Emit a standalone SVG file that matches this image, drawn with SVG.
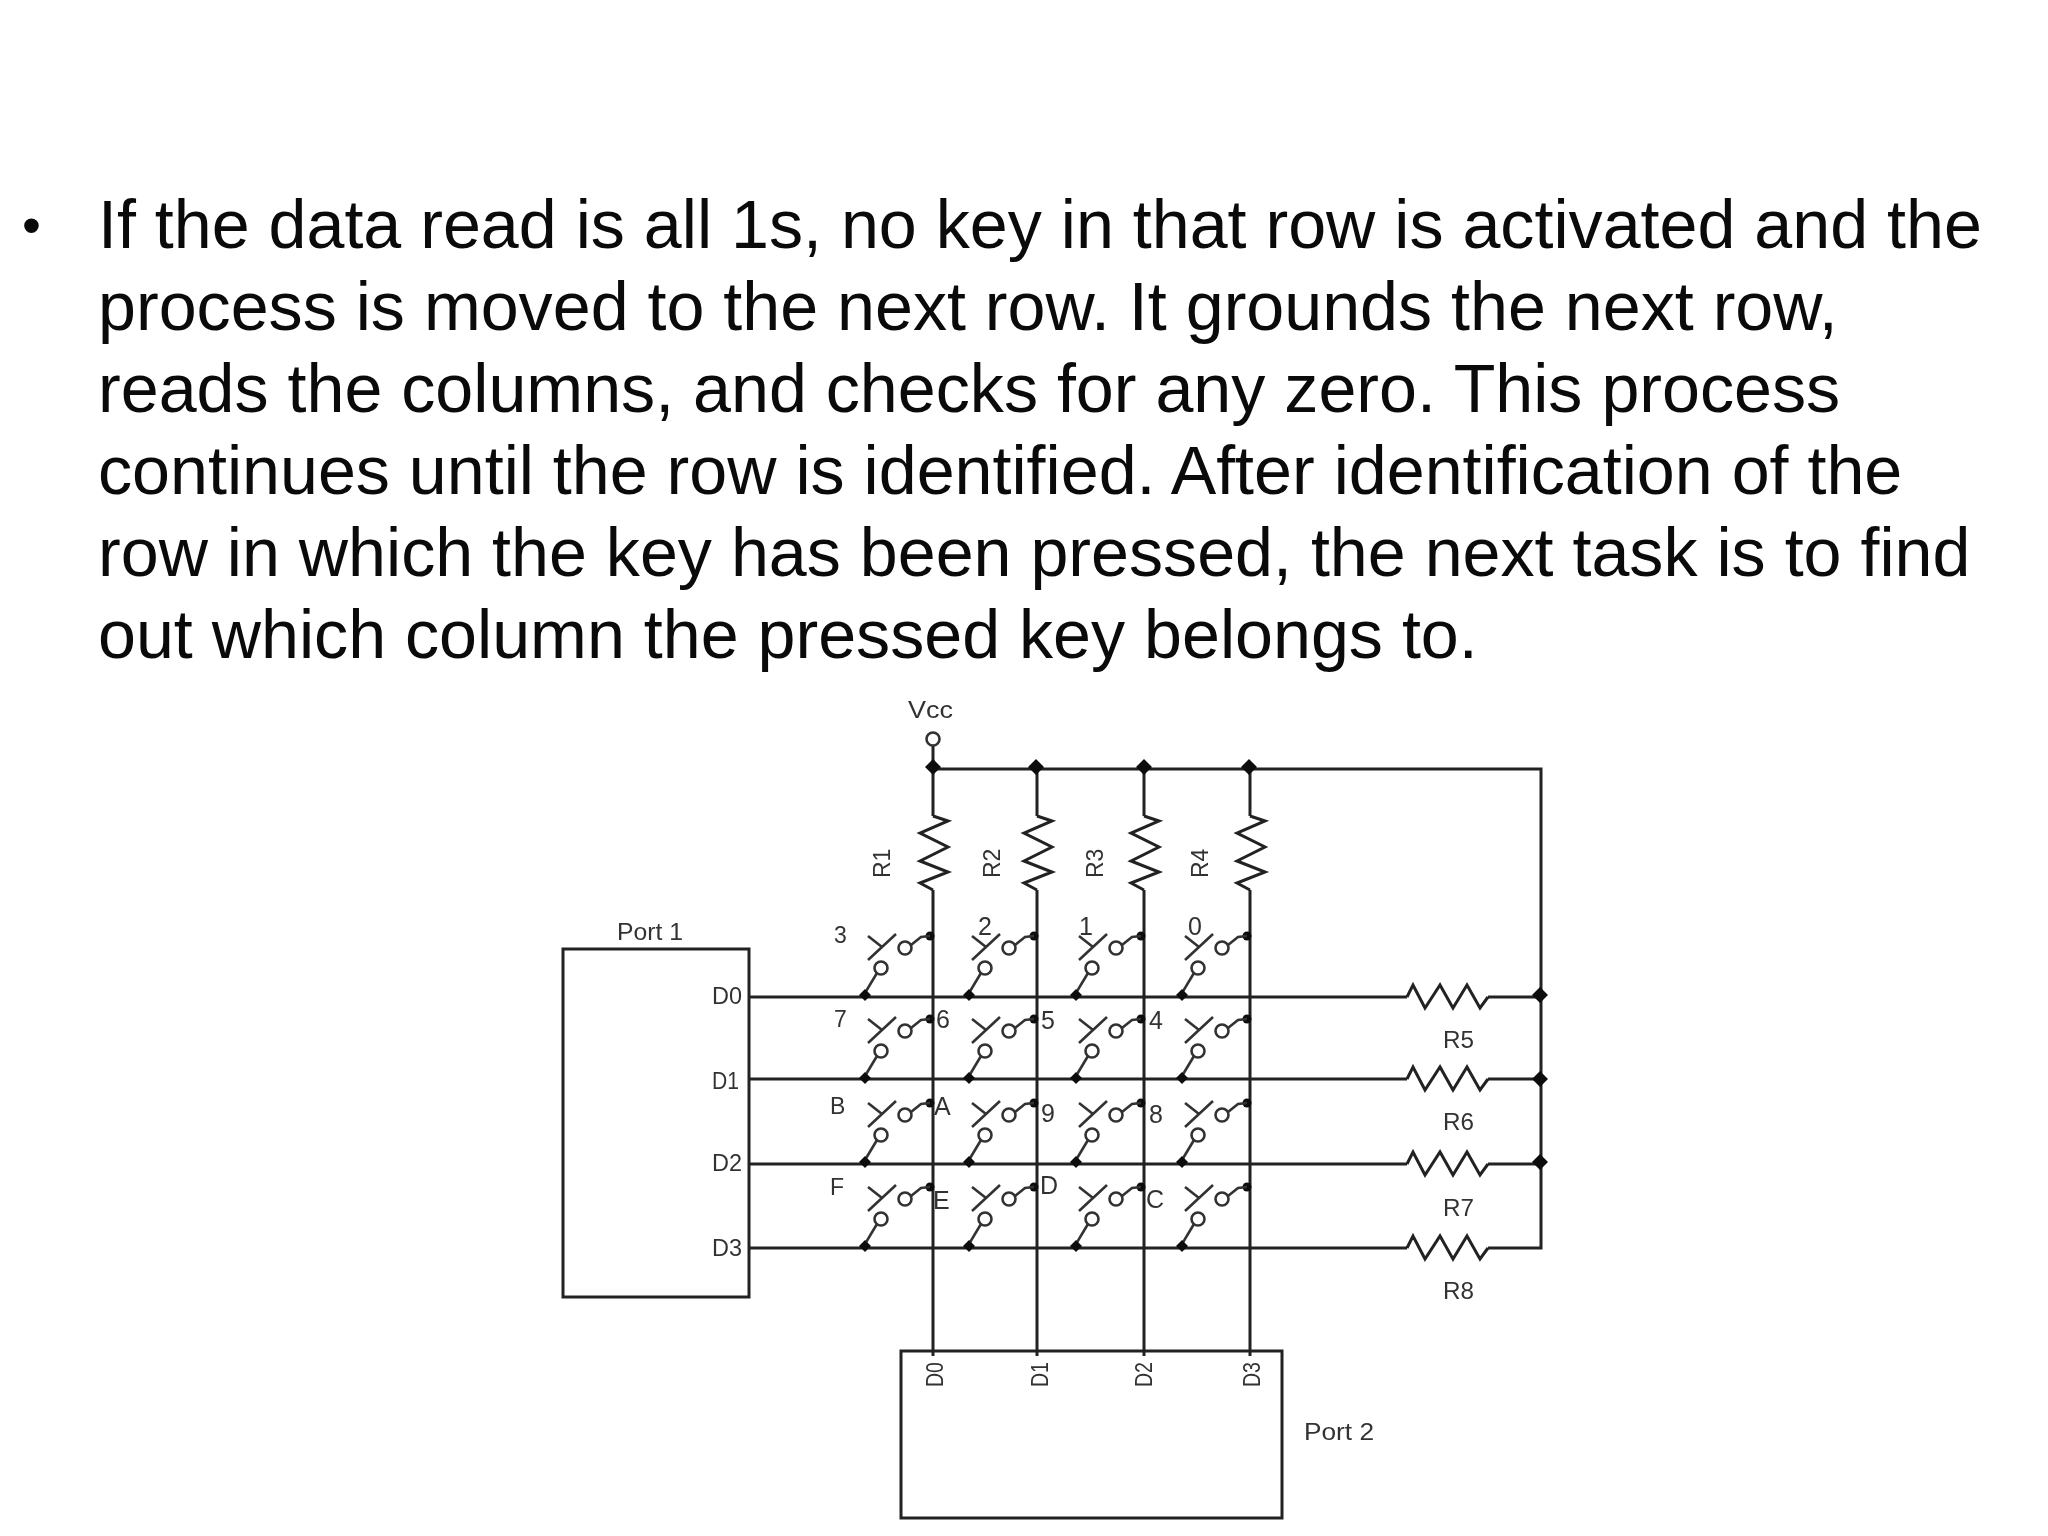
<svg xmlns="http://www.w3.org/2000/svg" width="2048" height="1536" viewBox="0 0 2048 1536">
<style>
.body{font-family:"Liberation Sans",Arial,sans-serif;font-size:68.2px;fill:#0a0a0a}
.bul{font-size:54px}
.lbl{font-family:"Liberation Sans",Arial,sans-serif;font-size:23px;fill:#333}
.k{font-size:25px}
.w{fill:none;stroke:#222;stroke-width:3}
.t{fill:none;stroke:#333;stroke-width:2.6}
.box{fill:#fff;stroke:#222;stroke-width:3}
.dot{fill:#111}
</style>
<defs>
<filter id="soft" x="-2%" y="-2%" width="104%" height="104%"><feGaussianBlur stdDeviation="0.7"/></filter>
<g id="sw">
<circle class="dot" cx="-3" cy="0" r="4.5"/>
<path class="t" d="M-3 0L-12 1L-22 9"/>
<circle class="t" cx="-28" cy="12" r="6.5"/>
<path class="t" d="M-65 24L-37 -2M-51 11L-65 0"/>
<circle class="t" cx="-52" cy="32" r="6.5"/>
<path class="t" d="M-56 37L-68 57"/>
<path class="dot" d="M-68 53l6 6l-6 6l-6 -6z"/>
</g>
<path id="rv" class="w" d="M0 816L15 821L-13 833L15 847L-13 861L15 872L-13 883L0 890"/>
<path id="rh" class="w" d="M1407 0L1413 -12L1425 11L1440 -12L1453 11L1467 -12L1480 11L1488 0"/>
<path id="jn" class="dot" d="M0 -8L8 0L0 8L-8 0Z"/>
</defs>
<rect width="2048" height="1536" fill="#fff"/>
<g id="body-text">
<text class="body bul" x="22" y="244">•</text>
<text class="body" x="98" y="248">If the data read is all 1s, no key in that row is activated and the</text>
<text class="body" x="98" y="330">process is moved to the next row. It grounds the next row,</text>
<text class="body" x="98" y="412">reads the columns, and checks for any zero. This process</text>
<text class="body" x="98" y="494">continues until the row is identified. After identification of the</text>
<text class="body" x="98" y="576">row in which the key has been pressed, the next task is to find</text>
<text class="body" x="98" y="658">out which column the pressed key belongs to.</text>
</g>
<g filter="url(#soft)">
<g id="port1"><rect class="box" x="563" y="949" width="186" height="348"/>
<text class="lbl" x="617" y="940" textLength="66" lengthAdjust="spacingAndGlyphs">Port 1</text>
<text class="lbl" x="712" y="1004" textLength="30" lengthAdjust="spacingAndGlyphs">D0</text>
<text class="lbl" x="712" y="1089" textLength="27" lengthAdjust="spacingAndGlyphs">D1</text>
<text class="lbl" x="712" y="1171" textLength="30" lengthAdjust="spacingAndGlyphs">D2</text>
<text class="lbl" x="712" y="1256" textLength="30" lengthAdjust="spacingAndGlyphs">D3</text>
</g>
<g id="port2"><rect class="box" x="901" y="1351" width="381" height="167"/>
<text class="lbl" x="1304" y="1440" textLength="70" lengthAdjust="spacingAndGlyphs">Port 2</text>
<text class="lbl" transform="translate(943 1387) rotate(-90)" textLength="25" lengthAdjust="spacingAndGlyphs">D0</text>
<text class="lbl" transform="translate(1048 1387) rotate(-90)" textLength="25" lengthAdjust="spacingAndGlyphs">D1</text>
<text class="lbl" transform="translate(1152 1387) rotate(-90)" textLength="25" lengthAdjust="spacingAndGlyphs">D2</text>
<text class="lbl" transform="translate(1260 1387) rotate(-90)" textLength="25" lengthAdjust="spacingAndGlyphs">D3</text>
</g>
<g id="connectors">
<path class="w" d="M933 746V816M933 890V1356M1037 769V816M1037 890V1356M1144 769V816M1144 890V1356M1250 769V816M1250 890V1356"/>
<path class="w" d="M933 769H1541V1248H1488M749 997H1407M749 1079H1407M749 1164H1407M749 1248H1407M1488 997H1541M1488 1079H1541M1488 1164H1541"/>
<circle class="t" cx="933" cy="739" r="6.5"/>
<use href="#jn" x="933" y="767"/><use href="#jn" x="1036" y="767"/><use href="#jn" x="1144" y="767"/><use href="#jn" x="1249" y="767"/>
<use href="#jn" x="1540" y="995"/><use href="#jn" x="1540" y="1079"/><use href="#jn" x="1540" y="1162"/>
</g>
<g id="vcc"><text class="lbl" x="908" y="718" textLength="45" lengthAdjust="spacingAndGlyphs">Vcc</text></g>
<g id="R1"><use href="#rv" x="933"/><text class="lbl" transform="translate(890 878) rotate(-90)">R1</text></g>
<g id="R2"><use href="#rv" x="1037"/><text class="lbl" transform="translate(1000 878) rotate(-90)">R2</text></g>
<g id="R3"><use href="#rv" x="1144"/><text class="lbl" transform="translate(1103 878) rotate(-90)">R3</text></g>
<g id="R4"><use href="#rv" x="1250"/><text class="lbl" transform="translate(1208 878) rotate(-90)">R4</text></g>
<g id="R5"><use href="#rh" y="997"/><text class="lbl" x="1443" y="1048" textLength="31" lengthAdjust="spacingAndGlyphs">R5</text></g>
<g id="R6"><use href="#rh" y="1079"/><text class="lbl" x="1443" y="1130" textLength="31" lengthAdjust="spacingAndGlyphs">R6</text></g>
<g id="R7"><use href="#rh" y="1164"/><text class="lbl" x="1443" y="1216" textLength="31" lengthAdjust="spacingAndGlyphs">R7</text></g>
<g id="R8"><use href="#rh" y="1248"/><text class="lbl" x="1443" y="1299" textLength="31" lengthAdjust="spacingAndGlyphs">R8</text></g>
<g id="key-3"><use href="#sw" x="933" y="936"/><text class="lbl" x="834" y="943">3</text></g>
<g id="key-2"><use href="#sw" x="1037" y="936"/><text class="lbl k" x="978" y="935">2</text></g>
<g id="key-1"><use href="#sw" x="1144" y="936"/><text class="lbl k" x="1079" y="935">1</text></g>
<g id="key-0"><use href="#sw" x="1250" y="936"/><text class="lbl k" x="1188" y="935">0</text></g>
<g id="key-7"><use href="#sw" x="933" y="1019"/><text class="lbl" x="834" y="1027">7</text></g>
<g id="key-6"><use href="#sw" x="1037" y="1019"/><text class="lbl k" x="936" y="1028">6</text></g>
<g id="key-5"><use href="#sw" x="1144" y="1019"/><text class="lbl k" x="1041" y="1029">5</text></g>
<g id="key-4"><use href="#sw" x="1250" y="1019"/><text class="lbl k" x="1149" y="1029">4</text></g>
<g id="key-B"><use href="#sw" x="933" y="1103"/><text class="lbl" x="830" y="1114">B</text></g>
<g id="key-A"><use href="#sw" x="1037" y="1103"/><text class="lbl k" x="934" y="1115">A</text></g>
<g id="key-9"><use href="#sw" x="1144" y="1103"/><text class="lbl k" x="1041" y="1122">9</text></g>
<g id="key-8"><use href="#sw" x="1250" y="1103"/><text class="lbl k" x="1149" y="1123">8</text></g>
<g id="key-F"><use href="#sw" x="933" y="1187"/><text class="lbl" x="830" y="1195">F</text></g>
<g id="key-E"><use href="#sw" x="1037" y="1187"/><text class="lbl k" x="933" y="1209">E</text></g>
<g id="key-D"><use href="#sw" x="1144" y="1187"/><text class="lbl k" x="1040" y="1194">D</text></g>
<g id="key-C"><use href="#sw" x="1250" y="1187"/><text class="lbl k" x="1146" y="1208">C</text></g>
</g>
</svg>
